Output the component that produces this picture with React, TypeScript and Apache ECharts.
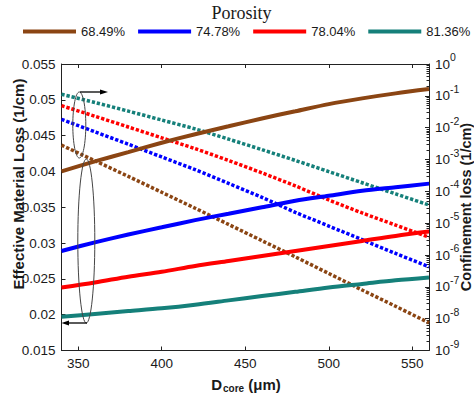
import React, { useEffect, useRef } from "react";
import * as echarts from "echarts";

// Core diameter (µm)
const diameters = [340, 360, 380, 400, 420, 440, 460, 480, 500, 520, 540, 560];
const porosityLabels = ["68.49%", "74.78%", "78.04%", "81.36%"];
const colors = ["#8B4513", "#0000FF", "#FF0000", "#15807A"];

// Effective material loss (1/cm), left axis, solid lines
const eml6849 = [0.04, 0.0414, 0.0427, 0.044, 0.0452, 0.0463, 0.0474, 0.0484, 0.0494, 0.0502, 0.0509, 0.0515];
const eml7478 = [0.0289, 0.0301, 0.0312, 0.0322, 0.0332, 0.0341, 0.035, 0.0359, 0.0366, 0.0373, 0.0378, 0.0383];
const eml7804 = [0.0238, 0.0245, 0.0253, 0.026, 0.0268, 0.0275, 0.0282, 0.0289, 0.0296, 0.0303, 0.031, 0.0316];
const eml8136 = [0.0197, 0.0201, 0.0205, 0.0209, 0.0214, 0.022, 0.0226, 0.0232, 0.0238, 0.0243, 0.0248, 0.0252];

// Confinement loss (1/cm), right log axis, dotted lines
const cl6849 = [2.82e-3, 9.12e-4, 2.95e-4, 9.33e-5, 2.95e-5, 9.12e-6, 2.82e-6, 8.71e-7, 2.63e-7, 7.94e-8, 2.45e-8, 7.41e-9];
const cl7478 = [1.82e-2, 7.41e-3, 3.02e-3, 1.2e-3, 4.79e-4, 1.78e-4, 6.46e-5, 2.19e-5, 8.13e-6, 3.02e-6, 1.12e-6, 4.27e-7];
const cl7804 = [4.9e-2, 2.29e-2, 1.05e-2, 4.79e-3, 2.19e-3, 9.33e-4, 3.8e-4, 1.48e-4, 5.37e-5, 2.09e-5, 8.71e-6, 3.63e-6];
const cl8136 = [1.12e-1, 6.17e-2, 3.31e-2, 1.74e-2, 9.12e-3, 4.37e-3, 2.04e-3, 9.33e-4, 4.17e-4, 1.86e-4, 8.32e-5, 3.72e-5];

const xTickValues = [350, 400, 450, 500, 550];

const SANS = '"Liberation Sans", Arial, sans-serif';
const SERIF = '"Liberation Serif", "Times New Roman", serif';
const TXT = "#1a1a1a";
const AX = "#222";

export default function App() {
  const ref = useRef<HTMLDivElement>(null);
  useEffect(() => {
    if (!ref.current) return;
    const chart = echarts.init(ref.current, null, { renderer: "svg" });
    const emls = [eml6849, eml7478, eml7804, eml8136];
    const cls = [cl6849, cl7478, cl7804, cl8136];
    const series: any[] = [];
    porosityLabels.forEach((name, i) => {
      series.push({
        name,
        type: "line",
        xAxisIndex: 0,
        yAxisIndex: 0,
        data: diameters.map((d, j) => [d, emls[i][j]]),
        showSymbol: false,
        smooth: 0.3,
        color: colors[i],
        lineStyle: { width: 4, color: colors[i] },
        z: 3,
      });
    });
    porosityLabels.forEach((name, i) => {
      series.push({
        name: name + " confinement",
        type: "line",
        xAxisIndex: 0,
        yAxisIndex: 1,
        data: diameters.map((d, j) => [d, cls[i][j]]),
        showSymbol: false,
        smooth: 0.3,
        color: colors[i],
        lineStyle: { width: 3.5, color: colors[i], type: [3.3, 1.9] },
        z: 2,
      });
    });

    chart.setOption({
      animation: false,
      backgroundColor: "#fff",
      grid: { left: 61.5, right: 45, top: 64, bottom: 44.5, containLabel: false, outerBoundsMode: "none" },
      legend: {
        data: porosityLabels,
        left: 23,
        top: 25,
        width: 460,
        padding: 0,
        itemWidth: 53,
        itemHeight: 4,
        itemGap: 13,
        icon: "rect",
        textStyle: { fontFamily: SANS, fontSize: 13, color: TXT },
      },
      xAxis: [
        {
          type: "value",
          min: 340,
          max: 560,
          position: "bottom",
          axisLine: { show: true, lineStyle: { color: AX, width: 1 } },
          axisTick: { show: true, inside: true, length: 4, customValues: xTickValues, lineStyle: { color: AX } },
          axisLabel: { customValues: xTickValues, fontFamily: SANS, fontSize: 13.5, color: TXT, margin: 6 },
          splitLine: { show: false },
        },
        {
          type: "value",
          min: 340,
          max: 560,
          position: "top",
          axisLine: { show: true, lineStyle: { color: AX, width: 1 } },
          axisTick: { show: true, inside: true, length: 4, customValues: xTickValues, lineStyle: { color: AX } },
          axisLabel: { show: false },
          splitLine: { show: false },
        },
      ],
      yAxis: [
        {
          type: "value",
          min: 0.015,
          max: 0.055,
          interval: 0.005,
          position: "left",
          axisLine: { show: true, lineStyle: { color: AX, width: 1 } },
          axisTick: { show: true, inside: true, length: 4, lineStyle: { color: AX } },
          axisLabel: { fontFamily: SANS, fontSize: 13.5, color: TXT, margin: 6 },
          splitLine: { show: false },
        },
        {
          type: "log",
          logBase: 10,
          min: 1e-9,
          max: 1,
          interval: 1,
          splitNumber: 9,
          position: "right",
          axisLine: { show: true, lineStyle: { color: AX, width: 1 } },
          axisTick: { show: true, inside: true, length: 4, lineStyle: { color: AX } },
          minorTick: { show: true, splitNumber: 9, length: 2.5, lineStyle: { color: AX } },
          axisLabel: {
            margin: 6,
            formatter: (v: number) => `{b|10}{s|${Math.round(Math.log10(v))}}`,
            rich: {
              b: { fontFamily: SANS, fontSize: 13.5, color: TXT },
              s: { fontFamily: SANS, fontSize: 10.5, color: TXT, padding: [0, 0, 14, 0] },
            },
          },
          splitLine: { show: false },
        },
      ],
      series,
      graphic: [
        {
          type: "text",
          x: 241.5,
          y: 13,
          style: { text: "Porosity", font: `18px ${SERIF}`, fill: TXT, align: "center", verticalAlign: "middle" },
        },
        {
          type: "text",
          x: 18,
          y: 184,
          rotation: Math.PI / 2,
          style: {
            text: "Effective Material Loss (1/cm)",
            font: `bold 15px ${SANS}`,
            fill: TXT,
            align: "center",
            verticalAlign: "middle",
          },
        },
        {
          type: "text",
          x: 466,
          y: 207,
          rotation: Math.PI / 2,
          style: {
            text: "Confinement loss (1/cm)",
            font: `bold 14.5px ${SANS}`,
            fill: TXT,
            align: "center",
            verticalAlign: "middle",
          },
        },
        {
          type: "text",
          x: 246,
          y: 384,
          style: {
            text: "{d|D}{sub|core}{d| (μm)}",
            align: "center",
            verticalAlign: "middle",
            rich: {
              d: { font: `bold 15px ${SANS}`, fill: TXT },
              sub: { font: `bold 10px ${SANS}`, fill: TXT, padding: [9, 0, 0, 1] },
            },
          },
        },
        {
          type: "ellipse",
          shape: { cx: 79.3, cy: 125, rx: 6.5, ry: 33 },
          style: { fill: "none", stroke: "#444", lineWidth: 1 },
          z: 10,
        },
        {
          type: "ellipse",
          shape: { cx: 86.3, cy: 241, rx: 8.5, ry: 82 },
          style: { fill: "none", stroke: "#444", lineWidth: 1 },
          z: 10,
        },
        {
          type: "line",
          shape: { x1: 80, y1: 92, x2: 101, y2: 92 },
          style: { stroke: "#000", lineWidth: 1.3 },
          z: 10,
        },
        {
          type: "polygon",
          shape: { points: [[100, 89.5], [108, 92], [100, 94.5]] },
          style: { fill: "#000" },
          z: 10,
        },
        {
          type: "line",
          shape: { x1: 87, y1: 323, x2: 68, y2: 323 },
          style: { stroke: "#000", lineWidth: 1.3 },
          z: 10,
        },
        {
          type: "polygon",
          shape: { points: [[69, 320.5], [61.5, 323], [69, 325.5]] },
          style: { fill: "#000" },
          z: 10,
        },
      ],
    });
    return () => chart.dispose();
  }, []);
  return (
    <div
      ref={ref}
      style={{ position: "fixed", left: 0, top: 0, width: 474, height: 395, background: "#fff" }}
    />
  );
}
